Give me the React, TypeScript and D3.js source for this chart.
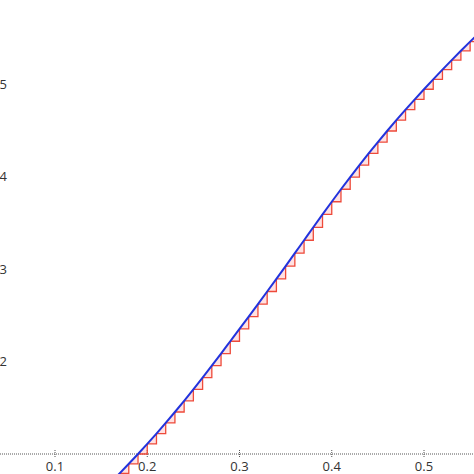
import { line, curveMonotoneX, scaleLinear } from "d3";
import { FC } from "react";

// sample points of the curve (step width 0.01)
const xs = [
  0.15, 0.16, 0.17, 0.18, 0.19, 0.2, 0.21, 0.22, 0.23, 0.24, 0.25, 0.26, 0.27,
  0.28, 0.29, 0.3, 0.31, 0.32, 0.33, 0.34, 0.35, 0.36, 0.37, 0.38, 0.39, 0.4,
  0.41, 0.42, 0.43, 0.44, 0.45, 0.46, 0.47, 0.48, 0.49, 0.5, 0.51, 0.52, 0.53,
  0.54, 0.55, 0.56,
];
const ys = [
  0.588, 0.688, 0.79, 0.894, 1.0, 1.109, 1.221, 1.336, 1.454, 1.575, 1.699,
  1.826, 1.955, 2.086, 2.219, 2.352, 2.486, 2.621, 2.757, 2.894, 3.032, 3.171,
  3.311, 3.451, 3.59, 3.727, 3.862, 3.994, 4.123, 4.249, 4.372, 4.492, 4.609,
  4.723, 4.834, 4.943, 5.05, 5.155, 5.258, 5.359, 5.458, 5.555,
];

const xTicks = [0.1, 0.2, 0.3, 0.4, 0.5];
const xTickLabels = ["0.1", "0.2", "0.3", "0.4", "0.5"];
const yTicks = [2, 3, 4, 5];
const yTickLabels = ["2", "3", "4", "5"];
const axisY = 1;

const W = 474;
const H = 474;

const Chart: FC = () => {
  const x = scaleLinear().domain([0.1, 0.5]).range([55, 424]);
  const y = scaleLinear().domain([2, 5]).range([361.5, 84]);

  const pts: [number, number][] = xs.map((d, i) => [x(d), y(ys[i])]);
  const curve = line().curve(curveMonotoneX)(pts) ?? "";

  // left-endpoint steps under the curve
  let steps = "";
  const tris: string[] = [];
  for (let i = 0; i < xs.length - 1; i++) {
    const x0 = x(xs[i]);
    const x1 = x(xs[i + 1]);
    const y0 = y(ys[i]);
    const y1 = y(ys[i + 1]);
    steps += `M${x0},${y0}H${x1}V${y1}`;
    tris.push(`M${x0},${y0}L${x1},${y0}L${x1},${y1}Z`);
  }

  const font = "'Open Sans', sans-serif";
  const ay = y(axisY);

  return (
    <svg width={W} height={H} style={{ display: "block" }}>
      <rect width={W} height={H} fill="#fff" />
      {/* axis */}
      <line x1={0} x2={W} y1={ay} y2={ay} stroke="#555" strokeDasharray="1,1" />
      {xTicks.map((t) => (
        <line
          key={t}
          x1={x(t)}
          x2={x(t)}
          y1={ay - 4}
          y2={ay + 4}
          stroke="#555"
          strokeDasharray="1,1"
        />
      ))}
      {xTicks.map((t, i) => (
        <text
          key={"l" + t}
          x={x(t)}
          y={471}
          textAnchor="middle"
          fontFamily={font}
          fontSize={13}
          fill="#333"
        >
          {xTickLabels[i]}
        </text>
      ))}
      {yTicks.map((t, i) => (
        <text
          key={"y" + t}
          x={7}
          y={y(t) + 4.5}
          textAnchor="end"
          fontFamily={font}
          fontSize={13}
          fill="#333"
        >
          {yTickLabels[i]}
        </text>
      ))}
      {/* steps */}
      {tris.map((d, i) => (
        <path key={i} d={d} fill="rgba(255,90,90,0.18)" stroke="none" />
      ))}
      <path d={steps} fill="none" stroke="#ee4a3a" strokeWidth={1.3} />
      <path d={curve} fill="none" stroke="#2233dd" strokeWidth={2} />
    </svg>
  );
};

export default function App() {
  return (
    <div style={{ position: "fixed", left: 0, top: 0 }}>
      <Chart />
    </div>
  );
}
